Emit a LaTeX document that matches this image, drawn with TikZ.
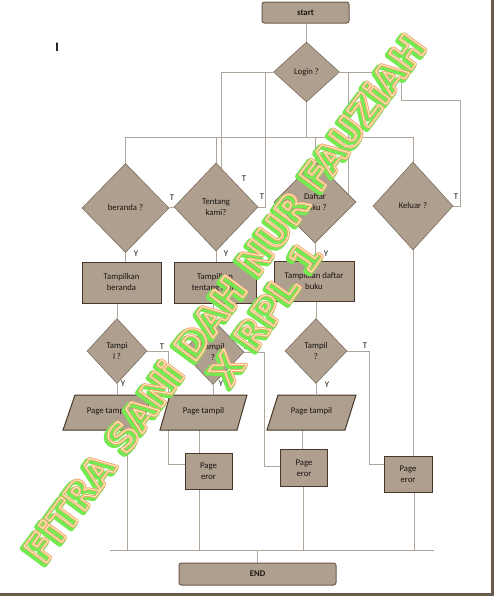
\documentclass[tikz,border=0pt]{standalone}
\usepackage{fontspec}
\setmainfont{Carlito}
\newfontfamily\wmfamily{DejaVu Sans}
\usetikzlibrary{shapes.geometric,calc}
\pgfdeclarelayer{background}
\pgfsetlayers{background,main}
\definecolor{boxf}{RGB}{174,159,143}
\definecolor{boxb}{RGB}{70,55,40}
\definecolor{diab}{RGB}{125,110,95}
\definecolor{termb}{RGB}{105,90,75}
\definecolor{linec}{RGB}{176,166,156}
\definecolor{txt}{RGB}{25,20,15}
\definecolor{frameb}{RGB}{105,90,75}
\definecolor{wmgreen}{RGB}{115,235,80}
\definecolor{wmsalmon}{RGB}{245,165,125}
\definecolor{wmyellow}{RGB}{250,245,175}
\newcommand\strk[1]{\special{pdf:literal direct #1 w 1 Tr 1 j}}
\newcommand\unstrk{\special{pdf:literal direct 0 Tr}}
\newcommand\lbl{\fontsize{8.7}{11}\selectfont}
\newcommand\wmline{FiTRA SANi DAH NUR FAUZiAH}
\tikzset{
  conn/.style={draw=linec, line width=0.9},
  dia/.style={diamond, draw=diab, fill=boxf, line width=0.6, inner sep=0, align=center, font=\lbl, text=txt},
  box/.style={rectangle, draw=boxb, fill=boxf, line width=1, inner sep=0, align=center, font=\lbl, text=txt},
  term/.style={rectangle, rounded corners=2.5, draw=termb, fill=boxf, line width=1, inner sep=0, font=\lbl\bfseries, text=txt},
  para/.style={fill=boxf, draw=boxb, line width=1},
  ptxt/.style={inner sep=0, minimum width=77, minimum height=35, font=\lbl, text=txt},
  lab/.style={font=\lbl, inner sep=0, text=txt},
  wm/.style={inner sep=0, font=\wmfamily\bfseries\fontsize{38}{42}\selectfont}
}
\begin{document}
\begin{tikzpicture}[x=1pt,y=-1pt]
\useasboundingbox (0,0) rectangle (495,598);
\draw[frameb, line width=2.2] (492.5,0) -- (492.5,594.5) -- (0,594.5);

\node[font=\fontsize{13}{13}\selectfont\bfseries, inner sep=0] (cursor) at (57,47.5) {I};

% terminals
\node[term, minimum width=87, minimum height=21] (start) at (305.5,12.5) {start};
\node[term, minimum width=157, minimum height=22] (end) at (257.5,574) {END};

% decisions
\node[dia, minimum width=66, minimum height=60] (login) at (306.5,72) {Login ?};
\node[dia, minimum width=87, minimum height=89] (beranda) at (125.5,208) {beranda ?};
\node[dia, minimum width=84, minimum height=88] (tentang) at (216,207) {Tentang\\kami?};
\node[dia, minimum width=82, minimum height=82] (daftar) at (315,202) {Daftar\\buku ?};
\node[dia, minimum width=80, minimum height=88] (keluar) at (413,206) {Keluar ?};
\node[dia, minimum width=60, minimum height=65] (tampil1) at (117,351) {Tampi\\l ?};
\node[dia, minimum width=62, minimum height=65] (tampil2) at (213,352) {Tampil\\?};
\node[dia, minimum width=62, minimum height=65] (tampil3) at (316,351) {Tampil\\?};

% process boxes
\node[box, minimum width=79, minimum height=41] (tb) at (121.5,282.5) {Tampilkan\\beranda};
\node[box, minimum width=82, minimum height=41] (tt) at (215,282.5) {Tampilkan\\tentang kami};
\node[box, minimum width=80, minimum height=40] (td) at (314,281) {Tampilkan daftar\\buku};
\node[box, minimum width=47, minimum height=36] (pe1) at (208.5,471) {Page\\eror};
\node[box, minimum width=47, minimum height=37] (pe2) at (304,468) {Page\\eror};
\node[box, minimum width=48, minimum height=36] (pe3) at (408,474) {Page\\eror};

% page tampil (parallelograms)
\filldraw[para] (75,395) -- (152,395) -- (140,430) -- (63,430) -- cycle;
\filldraw[para] (170,395) -- (247,395) -- (237,430) -- (160,430) -- cycle;
\filldraw[para] (278,395) -- (356,395) -- (345,430) -- (267,430) -- cycle;
\node[ptxt] (pt1) at (107.5,411.5) {Page tampil};
\node[ptxt] (pt2) at (203.5,411.5) {Page tampil};
\node[ptxt] (pt3) at (311.5,411.5) {Page tampil};

\coordinate (split) at (306.5,137);
\coordinate (busL) at (110,550);
\coordinate (busR) at (434,550);

\begin{pgfonlayer}{background}
\fill[white] (0,0) rectangle (495,598);
\draw[conn] (login.north |- start.south) -- (login.north);
\draw[conn] (login.south) -- (split);
\draw[conn] (beranda.north) -- (beranda.north |- split) -- (keluar.north |- split) -- (keluar.north);
\draw[conn] (tentang.north) -- (tentang.north |- split);
\draw[conn] (daftar.north) -- (daftar.north |- split);
\draw[conn] (login.west) -| ($(tentang.north)!0.12!(tentang.east)$);
\draw[conn] (tentang.east) -| (265,72) -- (login.west);
\draw[conn] (login.east) -| ($(daftar.north)!0.8!(daftar.east)$);
\draw[conn] (login.east) -- (401,72) -- (401,100) -- (460,100) |- (keluar.east);
\draw[conn] (beranda.east) -- (tentang.west);
\draw[conn] (beranda.south) -- (beranda.south |- tb.north);
\draw[conn] (tentang.south) -- (tentang.south |- tt.north);
\draw[conn] (daftar.south) -- (daftar.south |- td.north);
\draw[conn] (tampil1.north) -- (tampil1.north |- tb.south);
\draw[conn] (tampil2.north) -- (tampil2.north |- tt.south);
\draw[conn] (tampil3.north) -- (tampil3.north |- td.south);
\draw[conn] (tampil1.south) -- (tampil1.south |- pt1.north);
\draw[conn] (tampil2.south) -- (tampil2.south |- pt2.north);
\draw[conn] (tampil3.south) -- (tampil3.south |- pt3.north);
\draw[conn] (tampil1.east) -| (168,464) -- (pe1.west |- 0,464);
\draw[conn] (tampil2.east) -| (264,466) -- (pe2.west |- 0,466);
\draw[conn] (tampil3.east) -| (369,464) -- (pe3.west |- 0,464);
\draw[conn] (127,0 |- pt1.south) -- (127,0 |- busL);
\draw[conn] (199,0 |- pt2.south) -- (199,0 |- pe1.north);
\draw[conn] (199,0 |- pe1.south) -- (199,0 |- busL);
\draw[conn] (302,0 |- pt3.south) -- (302,0 |- pe2.north);
\draw[conn] (303,0 |- pe2.south) -- (303,0 |- busL);
\draw[conn] (keluar.south) -- (keluar.south |- pe3.north);
\draw[conn] (414,0 |- pe3.south) -- (414,0 |- busL);
\draw[conn] (busL) -- (busR);
\draw[conn] (end.north |- busL) -- (end.north);
\end{pgfonlayer}

% labels
\node[lab] (t1) at (172,198) {T};
\node[lab] (t2) at (244,179) {T};
\node[lab] (t3) at (262,197) {T};
\node[lab] (t4) at (456,197) {T};
\node[lab] (t5) at (162,347) {T};
\node[lab] (t6) at (245,347) {T};
\node[lab] (t7) at (365,346) {T};
\node[lab] (y1) at (136,254) {Y};
\node[lab] (y2) at (226,254) {Y};
\node[lab] (y3) at (326,254) {Y};
\node[lab] (y4) at (123,384) {Y};
\node[lab] (y5) at (221,384) {Y};
\node[lab] (y6) at (327,385) {Y};

% watermark (WordArt)
\node[wm, rotate=53.5, text=wmgreen] (wm1g) at (223,300) {\strk{5}\wmline\unstrk};
\node[wm, rotate=53.5, text=wmsalmon] (wm1s) at (225,298) {\strk{2.8}\wmline\unstrk};
\node[wm, rotate=53.5, text=wmyellow] (wm1y) at (225,298) {\strk{0.9}\wmline\unstrk};
\node[wm, rotate=55, text=wmgreen] (wm2g) at (264,315) {\strk{5}X RPL 1\unstrk};
\node[wm, rotate=55, text=wmsalmon] (wm2s) at (266,313) {\strk{2.8}X RPL 1\unstrk};
\node[wm, rotate=55, text=wmyellow] (wm2y) at (266,313) {\strk{0.9}X RPL 1\unstrk};
\end{tikzpicture}
\end{document}
